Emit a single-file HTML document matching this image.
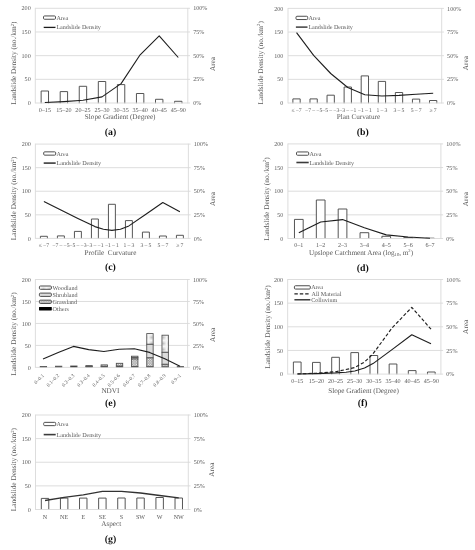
<!DOCTYPE html>
<html><head><meta charset="utf-8"><style>
html,body{margin:0;padding:0;background:#fff;}
svg{display:block;}
text{font-family:"Liberation Serif", "Times New Roman", serif;text-rendering:geometricPrecision;}
</style></head><body>
<svg width="475" height="550" viewBox="0 0 475 550">
<defs>
<pattern id="pw" width="1.2" height="1.2" patternUnits="userSpaceOnUse"><rect width="1.2" height="1.2" fill="#f6f6f6"/><rect width="0.5" height="0.5" fill="#b0b0b0"/></pattern>
<pattern id="ps" width="1.0" height="1.0" patternUnits="userSpaceOnUse"><rect width="1.0" height="1.0" fill="#efefef"/><rect width="0.5" height="0.5" fill="#a8a8a8"/></pattern>
<pattern id="pg" width="2.4" height="2.4" patternUnits="userSpaceOnUse"><rect width="2.4" height="2.4" fill="#9a9a9a"/><rect x="0.15" y="0.15" width="1.05" height="1.05" fill="#fff"/><rect x="1.35" y="1.35" width="1.05" height="1.05" fill="#fff"/></pattern>
</defs>
<defs><filter id="bl" x="0" y="0" width="100%" height="100%"><feGaussianBlur stdDeviation="0.35"/></filter></defs>
<rect width="475" height="550" fill="#fff"/>
<g filter="url(#bl)">
<line x1="35.30" y1="8.30" x2="190.00" y2="8.30" stroke="#d9d9d9" stroke-width="0.9"/>
<line x1="35.30" y1="31.98" x2="190.00" y2="31.98" stroke="#d9d9d9" stroke-width="0.9"/>
<line x1="35.30" y1="55.65" x2="190.00" y2="55.65" stroke="#d9d9d9" stroke-width="0.9"/>
<line x1="35.30" y1="79.33" x2="190.00" y2="79.33" stroke="#d9d9d9" stroke-width="0.9"/>
<line x1="35.30" y1="7.90" x2="35.30" y2="103.40" stroke="#d9d9d9" stroke-width="0.9"/>
<line x1="187.80" y1="7.90" x2="187.80" y2="103.40" stroke="#d9d9d9" stroke-width="0.9"/>
<text x="30.70" y="10.40" font-size="6.1" text-anchor="end" fill="#595959">200</text>
<text x="30.70" y="34.08" font-size="6.1" text-anchor="end" fill="#595959">150</text>
<text x="30.70" y="57.75" font-size="6.1" text-anchor="end" fill="#595959">100</text>
<text x="30.70" y="81.42" font-size="6.1" text-anchor="end" fill="#595959">50</text>
<text x="30.70" y="105.10" font-size="6.1" text-anchor="end" fill="#595959">0</text>
<text x="193.20" y="10.40" font-size="6.1" fill="#595959">100%</text>
<text x="193.20" y="34.08" font-size="6.1" fill="#595959">75%</text>
<text x="193.20" y="57.75" font-size="6.1" fill="#595959">50%</text>
<text x="193.20" y="81.42" font-size="6.1" fill="#595959">25%</text>
<text x="193.20" y="105.10" font-size="6.1" fill="#595959">0%</text>
<path d="M41.13,103.30 L41.13,91.00 L48.53,91.00 L48.53,103.30" fill="#fff" stroke="#4d4d4d" stroke-width="0.95"/>
<path d="M60.19,103.30 L60.19,91.60 L67.59,91.60 L67.59,103.30" fill="#fff" stroke="#4d4d4d" stroke-width="0.95"/>
<path d="M79.26,103.30 L79.26,86.30 L86.66,86.30 L86.66,103.30" fill="#fff" stroke="#4d4d4d" stroke-width="0.95"/>
<path d="M98.32,103.30 L98.32,81.50 L105.72,81.50 L105.72,103.30" fill="#fff" stroke="#4d4d4d" stroke-width="0.95"/>
<path d="M117.38,103.30 L117.38,84.60 L124.78,84.60 L124.78,103.30" fill="#fff" stroke="#4d4d4d" stroke-width="0.95"/>
<path d="M136.44,103.30 L136.44,93.50 L143.84,93.50 L143.84,103.30" fill="#fff" stroke="#4d4d4d" stroke-width="0.95"/>
<path d="M155.51,103.30 L155.51,99.30 L162.91,99.30 L162.91,103.30" fill="#fff" stroke="#4d4d4d" stroke-width="0.95"/>
<path d="M174.57,103.30 L174.57,101.30 L181.97,101.30 L181.97,103.30" fill="#fff" stroke="#4d4d4d" stroke-width="0.95"/>
<line x1="35.30" y1="103.00" x2="190.00" y2="103.00" stroke="#d9d9d9" stroke-width="0.9"/>
<path d="M44.83,102.50 L63.89,101.60 L82.96,100.30 L102.02,96.90 L121.08,83.60 L140.14,54.80 L159.21,35.90 L178.27,57.50" fill="none" stroke="#1f1f1f" stroke-width="1.12" stroke-linejoin="round"/>
<text x="44.83" y="111.80" font-size="6.1" text-anchor="middle" fill="#595959">0–15</text>
<text x="63.89" y="111.80" font-size="6.1" text-anchor="middle" fill="#595959">15–20</text>
<text x="82.96" y="111.80" font-size="6.1" text-anchor="middle" fill="#595959">20–25</text>
<text x="102.02" y="111.80" font-size="6.1" text-anchor="middle" fill="#595959">25–30</text>
<text x="121.08" y="111.80" font-size="6.1" text-anchor="middle" fill="#595959">30–35</text>
<text x="140.14" y="111.80" font-size="6.1" text-anchor="middle" fill="#595959">35–40</text>
<text x="159.21" y="111.80" font-size="6.1" text-anchor="middle" fill="#595959">40–45</text>
<text x="178.27" y="111.80" font-size="6.1" text-anchor="middle" fill="#595959">45–90</text>
<text x="120.20" y="119.10" font-size="7.2" text-anchor="middle" fill="#595959">Slope Gradient (Degree)</text>
<text transform="translate(16.20,63.20) rotate(-90)" font-size="7.35" text-anchor="middle" fill="#595959">Landslide Density (no./km<tspan font-size="4.7" dy="-2.7">2</tspan><tspan dy="2.7">)</tspan></text>
<text transform="translate(214.50,64.00) rotate(-90)" font-size="7.3" text-anchor="middle" fill="#595959">Area</text>
<text x="110.50" y="134.65" font-size="9.8" text-anchor="middle" font-weight="bold" fill="#111">(a)</text>
<rect x="43.50" y="15.95" width="12.0" height="3.3" rx="1.0" fill="#fff" stroke="#4d4d4d" stroke-width="1.0"/>
<text x="56.40" y="19.65" font-size="6.1" fill="#595959">Area</text>
<line x1="43.70" y1="27.40" x2="55.50" y2="27.40" stroke="#1f1f1f" stroke-width="1.3"/>
<text x="56.40" y="29.45" font-size="6.1" fill="#595959">Landslide Density</text>
<line x1="288.00" y1="8.40" x2="443.90" y2="8.40" stroke="#d9d9d9" stroke-width="0.9"/>
<line x1="288.00" y1="32.05" x2="443.90" y2="32.05" stroke="#d9d9d9" stroke-width="0.9"/>
<line x1="288.00" y1="55.70" x2="443.90" y2="55.70" stroke="#d9d9d9" stroke-width="0.9"/>
<line x1="288.00" y1="79.35" x2="443.90" y2="79.35" stroke="#d9d9d9" stroke-width="0.9"/>
<line x1="288.00" y1="8.00" x2="288.00" y2="103.40" stroke="#d9d9d9" stroke-width="0.9"/>
<line x1="441.70" y1="8.00" x2="441.70" y2="103.40" stroke="#d9d9d9" stroke-width="0.9"/>
<text x="283.40" y="10.50" font-size="6.1" text-anchor="end" fill="#595959">200</text>
<text x="283.40" y="34.15" font-size="6.1" text-anchor="end" fill="#595959">150</text>
<text x="283.40" y="57.80" font-size="6.1" text-anchor="end" fill="#595959">100</text>
<text x="283.40" y="81.45" font-size="6.1" text-anchor="end" fill="#595959">50</text>
<text x="283.40" y="105.10" font-size="6.1" text-anchor="end" fill="#595959">0</text>
<text x="447.10" y="10.50" font-size="6.1" fill="#595959">100%</text>
<text x="447.10" y="34.15" font-size="6.1" fill="#595959">75%</text>
<text x="447.10" y="57.80" font-size="6.1" fill="#595959">50%</text>
<text x="447.10" y="81.45" font-size="6.1" fill="#595959">25%</text>
<text x="447.10" y="105.10" font-size="6.1" fill="#595959">0%</text>
<path d="M292.89,103.30 L292.89,98.90 L300.19,98.90 L300.19,103.30" fill="#fff" stroke="#4d4d4d" stroke-width="0.95"/>
<path d="M309.97,103.30 L309.97,98.90 L317.27,98.90 L317.27,103.30" fill="#fff" stroke="#4d4d4d" stroke-width="0.95"/>
<path d="M327.04,103.30 L327.04,95.20 L334.34,95.20 L334.34,103.30" fill="#fff" stroke="#4d4d4d" stroke-width="0.95"/>
<path d="M344.12,103.30 L344.12,87.00 L351.42,87.00 L351.42,103.30" fill="#fff" stroke="#4d4d4d" stroke-width="0.95"/>
<path d="M361.20,103.30 L361.20,75.90 L368.50,75.90 L368.50,103.30" fill="#fff" stroke="#4d4d4d" stroke-width="0.95"/>
<path d="M378.28,103.30 L378.28,81.40 L385.58,81.40 L385.58,103.30" fill="#fff" stroke="#4d4d4d" stroke-width="0.95"/>
<path d="M395.36,103.30 L395.36,92.50 L402.66,92.50 L402.66,103.30" fill="#fff" stroke="#4d4d4d" stroke-width="0.95"/>
<path d="M412.43,103.30 L412.43,99.10 L419.73,99.10 L419.73,103.30" fill="#fff" stroke="#4d4d4d" stroke-width="0.95"/>
<path d="M429.51,103.30 L429.51,100.50 L436.81,100.50 L436.81,103.30" fill="#fff" stroke="#4d4d4d" stroke-width="0.95"/>
<line x1="288.00" y1="103.00" x2="443.90" y2="103.00" stroke="#d9d9d9" stroke-width="0.9"/>
<path d="M296.54,32.60 L313.62,55.30 L330.69,73.50 L347.77,87.50 L364.85,94.70 L381.93,96.00 L399.01,95.40 L416.08,94.30 L433.16,93.20" fill="none" stroke="#1f1f1f" stroke-width="1.12" stroke-linejoin="round"/>
<text x="296.54" y="111.60" font-size="5.7" text-anchor="middle" fill="#606060">≤ −7</text>
<text x="313.62" y="111.60" font-size="5.7" text-anchor="middle" fill="#606060">−7 – −5</text>
<text x="330.69" y="111.60" font-size="5.7" text-anchor="middle" fill="#606060">−5 – −3</text>
<text x="347.77" y="111.60" font-size="5.7" text-anchor="middle" fill="#606060">−3 – −1</text>
<text x="364.85" y="111.60" font-size="5.7" text-anchor="middle" fill="#606060">−1 – 1</text>
<text x="381.93" y="111.60" font-size="5.7" text-anchor="middle" fill="#606060">1 – 3</text>
<text x="399.01" y="111.60" font-size="5.7" text-anchor="middle" fill="#606060">3 – 5</text>
<text x="416.08" y="111.60" font-size="5.7" text-anchor="middle" fill="#606060">5 – 7</text>
<text x="433.16" y="111.60" font-size="5.7" text-anchor="middle" fill="#606060">≥ 7</text>
<text x="358.50" y="119.30" font-size="7.2" text-anchor="middle" fill="#595959">Plan Curvature</text>
<text transform="translate(262.90,62.80) rotate(-90)" font-size="7.35" text-anchor="middle" fill="#595959">Landslide Density (no./km<tspan font-size="4.7" dy="-2.7">2</tspan><tspan dy="2.7">)</tspan></text>
<text transform="translate(467.50,63.20) rotate(-90)" font-size="7.3" text-anchor="middle" fill="#595959">Area</text>
<text x="362.75" y="134.85" font-size="9.8" text-anchor="middle" font-weight="bold" fill="#111">(b)</text>
<rect x="296.00" y="16.25" width="11.7" height="3.3" rx="1.0" fill="#fff" stroke="#4d4d4d" stroke-width="1.0"/>
<text x="308.60" y="19.95" font-size="6.1" fill="#595959">Area</text>
<line x1="295.90" y1="27.10" x2="307.50" y2="27.10" stroke="#1f1f1f" stroke-width="1.3"/>
<text x="308.40" y="29.15" font-size="6.1" fill="#595959">Landslide Density</text>
<line x1="35.40" y1="144.10" x2="190.60" y2="144.10" stroke="#d9d9d9" stroke-width="0.9"/>
<line x1="35.40" y1="167.68" x2="190.60" y2="167.68" stroke="#d9d9d9" stroke-width="0.9"/>
<line x1="35.40" y1="191.25" x2="190.60" y2="191.25" stroke="#d9d9d9" stroke-width="0.9"/>
<line x1="35.40" y1="214.82" x2="190.60" y2="214.82" stroke="#d9d9d9" stroke-width="0.9"/>
<line x1="35.40" y1="143.70" x2="35.40" y2="238.80" stroke="#d9d9d9" stroke-width="0.9"/>
<line x1="188.40" y1="143.70" x2="188.40" y2="238.80" stroke="#d9d9d9" stroke-width="0.9"/>
<text x="30.80" y="146.20" font-size="6.1" text-anchor="end" fill="#595959">200</text>
<text x="30.80" y="169.78" font-size="6.1" text-anchor="end" fill="#595959">150</text>
<text x="30.80" y="193.35" font-size="6.1" text-anchor="end" fill="#595959">100</text>
<text x="30.80" y="216.92" font-size="6.1" text-anchor="end" fill="#595959">50</text>
<text x="30.80" y="240.50" font-size="6.1" text-anchor="end" fill="#595959">0</text>
<text x="193.80" y="146.20" font-size="6.1" fill="#595959">100%</text>
<text x="193.80" y="169.78" font-size="6.1" fill="#595959">75%</text>
<text x="193.80" y="193.35" font-size="6.1" fill="#595959">50%</text>
<text x="193.80" y="216.92" font-size="6.1" fill="#595959">25%</text>
<text x="193.80" y="240.50" font-size="6.1" fill="#595959">0%</text>
<path d="M40.42,238.70 L40.42,236.30 L47.38,236.30 L47.38,238.70" fill="#fff" stroke="#4d4d4d" stroke-width="0.95"/>
<path d="M57.42,238.70 L57.42,235.90 L64.38,235.90 L64.38,238.70" fill="#fff" stroke="#4d4d4d" stroke-width="0.95"/>
<path d="M74.43,238.70 L74.43,231.40 L81.38,231.40 L81.38,238.70" fill="#fff" stroke="#4d4d4d" stroke-width="0.95"/>
<path d="M91.43,238.70 L91.43,219.00 L98.38,219.00 L98.38,238.70" fill="#fff" stroke="#4d4d4d" stroke-width="0.95"/>
<path d="M108.43,238.70 L108.43,204.30 L115.38,204.30 L115.38,238.70" fill="#fff" stroke="#4d4d4d" stroke-width="0.95"/>
<path d="M125.43,238.70 L125.43,220.60 L132.38,220.60 L132.38,238.70" fill="#fff" stroke="#4d4d4d" stroke-width="0.95"/>
<path d="M142.43,238.70 L142.43,232.10 L149.38,232.10 L149.38,238.70" fill="#fff" stroke="#4d4d4d" stroke-width="0.95"/>
<path d="M159.43,238.70 L159.43,236.00 L166.38,236.00 L166.38,238.70" fill="#fff" stroke="#4d4d4d" stroke-width="0.95"/>
<path d="M176.43,238.70 L176.43,235.30 L183.38,235.30 L183.38,238.70" fill="#fff" stroke="#4d4d4d" stroke-width="0.95"/>
<line x1="35.40" y1="238.40" x2="190.60" y2="238.40" stroke="#d9d9d9" stroke-width="0.9"/>
<path d="M43.90,201.60 L60.90,210.00 L77.90,218.50 L94.90,226.60 L103.40,229.20 L111.90,230.40 L120.40,229.20 L128.90,225.90 L145.90,214.20 L162.80,202.50 L179.90,211.70" fill="none" stroke="#1f1f1f" stroke-width="1.12" stroke-linejoin="round"/>
<text x="43.90" y="246.90" font-size="5.7" text-anchor="middle" fill="#606060">≤ −7</text>
<text x="60.90" y="246.90" font-size="5.7" text-anchor="middle" fill="#606060">−7 – −5</text>
<text x="77.90" y="246.90" font-size="5.7" text-anchor="middle" fill="#606060">−5 – −3</text>
<text x="94.90" y="246.90" font-size="5.7" text-anchor="middle" fill="#606060">−3 – −1</text>
<text x="111.90" y="246.90" font-size="5.7" text-anchor="middle" fill="#606060">−1 – 1</text>
<text x="128.90" y="246.90" font-size="5.7" text-anchor="middle" fill="#606060">1 – 3</text>
<text x="145.90" y="246.90" font-size="5.7" text-anchor="middle" fill="#606060">3 – 5</text>
<text x="162.90" y="246.90" font-size="5.7" text-anchor="middle" fill="#606060">5 – 7</text>
<text x="179.90" y="246.90" font-size="5.7" text-anchor="middle" fill="#606060">≥ 7</text>
<text x="110.50" y="255.00" font-size="7.2" text-anchor="middle" fill="#595959">Profile&#160;&#160;Curvature</text>
<text transform="translate(16.20,198.50) rotate(-90)" font-size="7.35" text-anchor="middle" fill="#595959">Landslide Density (no./km<tspan font-size="4.7" dy="-2.7">2</tspan><tspan dy="2.7">)</tspan></text>
<text transform="translate(214.80,199.00) rotate(-90)" font-size="7.3" text-anchor="middle" fill="#595959">Area</text>
<text x="110.45" y="270.40" font-size="9.8" text-anchor="middle" font-weight="bold" fill="#111">(c)</text>
<rect x="43.70" y="151.85" width="12.0" height="3.3" rx="1.0" fill="#fff" stroke="#4d4d4d" stroke-width="1.0"/>
<text x="56.60" y="155.55" font-size="6.1" fill="#595959">Area</text>
<line x1="43.70" y1="163.10" x2="55.70" y2="163.10" stroke="#3a3a3a" stroke-width="1.6"/>
<text x="56.60" y="165.15" font-size="6.1" fill="#595959">Landslide Density</text>
<line x1="287.90" y1="143.90" x2="443.10" y2="143.90" stroke="#d9d9d9" stroke-width="0.9"/>
<line x1="287.90" y1="167.55" x2="443.10" y2="167.55" stroke="#d9d9d9" stroke-width="0.9"/>
<line x1="287.90" y1="191.20" x2="443.10" y2="191.20" stroke="#d9d9d9" stroke-width="0.9"/>
<line x1="287.90" y1="214.85" x2="443.10" y2="214.85" stroke="#d9d9d9" stroke-width="0.9"/>
<line x1="287.90" y1="143.50" x2="287.90" y2="238.90" stroke="#d9d9d9" stroke-width="0.9"/>
<line x1="440.90" y1="143.50" x2="440.90" y2="238.90" stroke="#d9d9d9" stroke-width="0.9"/>
<text x="283.30" y="146.00" font-size="6.1" text-anchor="end" fill="#595959">200</text>
<text x="283.30" y="169.65" font-size="6.1" text-anchor="end" fill="#595959">150</text>
<text x="283.30" y="193.30" font-size="6.1" text-anchor="end" fill="#595959">100</text>
<text x="283.30" y="216.95" font-size="6.1" text-anchor="end" fill="#595959">50</text>
<text x="283.30" y="240.60" font-size="6.1" text-anchor="end" fill="#595959">0</text>
<text x="446.30" y="146.00" font-size="6.1" fill="#595959">100%</text>
<text x="446.30" y="169.65" font-size="6.1" fill="#595959">75%</text>
<text x="446.30" y="193.30" font-size="6.1" fill="#595959">50%</text>
<text x="446.30" y="216.95" font-size="6.1" fill="#595959">25%</text>
<text x="446.30" y="240.60" font-size="6.1" fill="#595959">0%</text>
<path d="M294.48,238.80 L294.48,219.40 L303.18,219.40 L303.18,238.80" fill="#fff" stroke="#4d4d4d" stroke-width="0.95"/>
<path d="M316.34,238.80 L316.34,200.00 L325.04,200.00 L325.04,238.80" fill="#fff" stroke="#4d4d4d" stroke-width="0.95"/>
<path d="M338.19,238.80 L338.19,209.00 L346.89,209.00 L346.89,238.80" fill="#fff" stroke="#4d4d4d" stroke-width="0.95"/>
<path d="M360.05,238.80 L360.05,232.70 L368.75,232.70 L368.75,238.80" fill="#fff" stroke="#4d4d4d" stroke-width="0.95"/>
<path d="M381.91,238.80 L381.91,236.30 L390.61,236.30 L390.61,238.80" fill="#fff" stroke="#4d4d4d" stroke-width="0.95"/>
<path d="M403.76,238.80 L403.76,237.60 L412.46,237.60 L412.46,238.80" fill="#fff" stroke="#4d4d4d" stroke-width="0.95"/>
<path d="M425.62,238.80 L425.62,238.20 L434.32,238.20 L434.32,238.80" fill="#fff" stroke="#4d4d4d" stroke-width="0.95"/>
<line x1="287.90" y1="238.50" x2="443.10" y2="238.50" stroke="#d9d9d9" stroke-width="0.9"/>
<path d="M298.83,232.80 L320.69,222.00 L342.54,219.60 L364.40,227.80 L386.26,234.90 L408.11,237.00 L429.97,238.20" fill="none" stroke="#1f1f1f" stroke-width="1.12" stroke-linejoin="round"/>
<text x="298.83" y="246.90" font-size="6.1" text-anchor="middle" fill="#595959">0–1</text>
<text x="320.69" y="246.90" font-size="6.1" text-anchor="middle" fill="#595959">1–2</text>
<text x="342.54" y="246.90" font-size="6.1" text-anchor="middle" fill="#595959">2–3</text>
<text x="364.40" y="246.90" font-size="6.1" text-anchor="middle" fill="#595959">3–4</text>
<text x="386.26" y="246.90" font-size="6.1" text-anchor="middle" fill="#595959">4–5</text>
<text x="408.11" y="246.90" font-size="6.1" text-anchor="middle" fill="#595959">5–6</text>
<text x="429.97" y="246.90" font-size="6.1" text-anchor="middle" fill="#595959">6–7</text>
<text x="361.00" y="254.60" font-size="7.2" text-anchor="middle" fill="#595959">Upslope Catchment Area (log<tspan font-size="4.6" dy="1.5">10</tspan><tspan dy="-1.5">, m</tspan><tspan font-size="4.6" dy="-2.6">2</tspan><tspan dy="2.6">)</tspan></text>
<text transform="translate(268.50,199.00) rotate(-90)" font-size="7.35" text-anchor="middle" fill="#595959">Landslide Density (no./km<tspan font-size="4.7" dy="-2.7">2</tspan><tspan dy="2.7">)</tspan></text>
<text transform="translate(467.50,199.20) rotate(-90)" font-size="7.3" text-anchor="middle" fill="#595959">Area</text>
<text x="362.70" y="270.75" font-size="9.8" text-anchor="middle" font-weight="bold" fill="#111">(d)</text>
<rect x="296.50" y="151.95" width="12.2" height="3.3" rx="1.0" fill="#fff" stroke="#4d4d4d" stroke-width="1.0"/>
<text x="309.60" y="155.65" font-size="6.1" fill="#595959">Area</text>
<line x1="296.40" y1="162.50" x2="308.70" y2="162.50" stroke="#3a3a3a" stroke-width="1.6"/>
<text x="309.60" y="164.55" font-size="6.1" fill="#595959">Landslide Density</text>
<line x1="35.40" y1="279.50" x2="189.80" y2="279.50" stroke="#d9d9d9" stroke-width="0.9"/>
<line x1="35.40" y1="301.48" x2="189.80" y2="301.48" stroke="#d9d9d9" stroke-width="0.9"/>
<line x1="35.40" y1="323.45" x2="189.80" y2="323.45" stroke="#d9d9d9" stroke-width="0.9"/>
<line x1="35.40" y1="345.42" x2="189.80" y2="345.42" stroke="#d9d9d9" stroke-width="0.9"/>
<line x1="35.40" y1="279.10" x2="35.40" y2="367.80" stroke="#d9d9d9" stroke-width="0.9"/>
<line x1="187.60" y1="279.10" x2="187.60" y2="367.80" stroke="#d9d9d9" stroke-width="0.9"/>
<text x="30.80" y="281.60" font-size="6.1" text-anchor="end" fill="#595959">200</text>
<text x="30.80" y="303.58" font-size="6.1" text-anchor="end" fill="#595959">150</text>
<text x="30.80" y="325.55" font-size="6.1" text-anchor="end" fill="#595959">100</text>
<text x="30.80" y="347.52" font-size="6.1" text-anchor="end" fill="#595959">50</text>
<text x="30.80" y="369.50" font-size="6.1" text-anchor="end" fill="#595959">0</text>
<text x="193.00" y="281.60" font-size="6.1" fill="#595959">100%</text>
<text x="193.00" y="303.58" font-size="6.1" fill="#595959">75%</text>
<text x="193.00" y="325.55" font-size="6.1" fill="#595959">50%</text>
<text x="193.00" y="347.52" font-size="6.1" fill="#595959">25%</text>
<text x="193.00" y="369.50" font-size="6.1" fill="#595959">0%</text>
<rect x="40.21" y="366.50" width="6.40" height="0.90" fill="#222" stroke="#4d4d4d" stroke-width="0.85"/>
<rect x="55.43" y="366.20" width="6.40" height="1.20" fill="#222" stroke="#4d4d4d" stroke-width="0.85"/>
<rect x="70.65" y="366.00" width="6.40" height="1.40" fill="#222" stroke="#4d4d4d" stroke-width="0.85"/>
<rect x="85.87" y="365.60" width="6.40" height="1.00" fill="url(#pg)" stroke="#4d4d4d" stroke-width="0.85"/>
<rect x="85.87" y="366.60" width="6.40" height="0.80" fill="#222" stroke="#4d4d4d" stroke-width="0.85"/>
<rect x="101.09" y="364.90" width="6.40" height="1.60" fill="url(#pg)" stroke="#4d4d4d" stroke-width="0.85"/>
<rect x="101.09" y="366.50" width="6.40" height="0.90" fill="#222" stroke="#4d4d4d" stroke-width="0.85"/>
<rect x="116.31" y="363.30" width="6.40" height="2.90" fill="url(#pg)" stroke="#4d4d4d" stroke-width="0.85"/>
<rect x="116.31" y="366.20" width="6.40" height="1.20" fill="#222" stroke="#4d4d4d" stroke-width="0.85"/>
<rect x="131.53" y="356.20" width="6.40" height="1.20" fill="url(#pw)" stroke="#4d4d4d" stroke-width="0.85"/>
<rect x="131.53" y="357.40" width="6.40" height="1.60" fill="url(#ps)" stroke="#4d4d4d" stroke-width="0.85"/>
<rect x="131.53" y="359.00" width="6.40" height="7.60" fill="url(#pg)" stroke="#4d4d4d" stroke-width="0.85"/>
<rect x="131.53" y="366.60" width="6.40" height="0.80" fill="#222" stroke="#4d4d4d" stroke-width="0.85"/>
<rect x="146.75" y="333.60" width="6.40" height="10.70" fill="url(#pw)" stroke="#4d4d4d" stroke-width="0.85"/>
<rect x="146.75" y="344.30" width="6.40" height="13.60" fill="url(#ps)" stroke="#4d4d4d" stroke-width="0.85"/>
<rect x="146.75" y="357.90" width="6.40" height="8.90" fill="url(#pg)" stroke="#4d4d4d" stroke-width="0.85"/>
<rect x="146.75" y="366.80" width="6.40" height="0.60" fill="#222" stroke="#4d4d4d" stroke-width="0.85"/>
<rect x="161.97" y="335.20" width="6.40" height="17.10" fill="url(#pw)" stroke="#4d4d4d" stroke-width="0.85"/>
<rect x="161.97" y="352.30" width="6.40" height="12.00" fill="url(#ps)" stroke="#4d4d4d" stroke-width="0.85"/>
<rect x="161.97" y="364.30" width="6.40" height="2.60" fill="url(#pg)" stroke="#4d4d4d" stroke-width="0.85"/>
<rect x="161.97" y="366.90" width="6.40" height="0.50" fill="#222" stroke="#4d4d4d" stroke-width="0.85"/>
<rect x="177.19" y="366.60" width="6.40" height="0.80" fill="#1a1a1a" stroke="#4d4d4d" stroke-width="0.85"/>
<line x1="35.40" y1="367.40" x2="189.80" y2="367.40" stroke="#d9d9d9" stroke-width="0.9"/>
<path d="M43.01,359.10 L58.23,352.60 L73.45,346.40 L88.67,349.60 L103.89,351.50 L119.11,349.20 L134.33,348.80 L149.55,352.40 L164.77,358.80 L179.99,366.20" fill="none" stroke="#1f1f1f" stroke-width="1.12" stroke-linejoin="round"/>
<text transform="translate(44.31,375.90) rotate(-45)" font-size="5.2" text-anchor="end" fill="#666">0–0.1</text>
<text transform="translate(59.53,375.90) rotate(-45)" font-size="5.2" text-anchor="end" fill="#666">0.1–0.2</text>
<text transform="translate(74.75,375.90) rotate(-45)" font-size="5.2" text-anchor="end" fill="#666">0.2–0.3</text>
<text transform="translate(89.97,375.90) rotate(-45)" font-size="5.2" text-anchor="end" fill="#666">0.3–0.4</text>
<text transform="translate(105.19,375.90) rotate(-45)" font-size="5.2" text-anchor="end" fill="#666">0.4–0.5</text>
<text transform="translate(120.41,375.90) rotate(-45)" font-size="5.2" text-anchor="end" fill="#666">0.5–0.6</text>
<text transform="translate(135.63,375.90) rotate(-45)" font-size="5.2" text-anchor="end" fill="#666">0.6–0.7</text>
<text transform="translate(150.85,375.90) rotate(-45)" font-size="5.2" text-anchor="end" fill="#666">0.7–0.8</text>
<text transform="translate(166.07,375.90) rotate(-45)" font-size="5.2" text-anchor="end" fill="#666">0.8–0.9</text>
<text transform="translate(181.29,375.90) rotate(-45)" font-size="5.2" text-anchor="end" fill="#666">0.9–1</text>
<text x="110.40" y="392.60" font-size="7.2" text-anchor="middle" fill="#595959">NDVI</text>
<text transform="translate(16.20,334.00) rotate(-90)" font-size="7.35" text-anchor="middle" fill="#595959">Landslide Density (no./km<tspan font-size="4.7" dy="-2.7">2</tspan><tspan dy="2.7">)</tspan></text>
<text transform="translate(214.80,334.80) rotate(-90)" font-size="7.3" text-anchor="middle" fill="#595959">Area</text>
<text x="110.50" y="405.70" font-size="9.8" text-anchor="middle" font-weight="bold" fill="#111">(e)</text>
<rect x="39.40" y="286.00" width="12.0" height="3.3" rx="1.0" fill="url(#pw)" stroke="#4d4d4d" stroke-width="1.0"/>
<text x="52.60" y="289.70" font-size="6.1" fill="#595959">Woodland</text>
<rect x="39.40" y="293.10" width="12.0" height="3.3" rx="1.0" fill="url(#ps)" stroke="#4d4d4d" stroke-width="1.0"/>
<text x="52.60" y="296.80" font-size="6.1" fill="#595959">Shrubland</text>
<rect x="39.40" y="300.15" width="12.0" height="3.3" rx="1.0" fill="url(#pg)" stroke="#4d4d4d" stroke-width="1.0"/>
<text x="52.60" y="303.85" font-size="6.1" fill="#595959">Grassland</text>
<rect x="39.00" y="306.90" width="12.8" height="3.5" rx="0.4" fill="#000"/>
<text x="52.60" y="310.70" font-size="6.1" fill="#595959">Others</text>
<line x1="287.65" y1="279.50" x2="443.10" y2="279.50" stroke="#d9d9d9" stroke-width="0.9"/>
<line x1="287.65" y1="303.15" x2="443.10" y2="303.15" stroke="#d9d9d9" stroke-width="0.9"/>
<line x1="287.65" y1="326.80" x2="443.10" y2="326.80" stroke="#d9d9d9" stroke-width="0.9"/>
<line x1="287.65" y1="350.45" x2="443.10" y2="350.45" stroke="#d9d9d9" stroke-width="0.9"/>
<line x1="287.65" y1="279.10" x2="287.65" y2="374.50" stroke="#d9d9d9" stroke-width="0.9"/>
<line x1="440.90" y1="279.10" x2="440.90" y2="374.50" stroke="#d9d9d9" stroke-width="0.9"/>
<text x="283.05" y="281.60" font-size="6.1" text-anchor="end" fill="#595959">200</text>
<text x="283.05" y="305.25" font-size="6.1" text-anchor="end" fill="#595959">150</text>
<text x="283.05" y="328.90" font-size="6.1" text-anchor="end" fill="#595959">100</text>
<text x="283.05" y="352.55" font-size="6.1" text-anchor="end" fill="#595959">50</text>
<text x="283.05" y="376.20" font-size="6.1" text-anchor="end" fill="#595959">0</text>
<text x="446.30" y="281.60" font-size="6.1" fill="#595959">100%</text>
<text x="446.30" y="305.25" font-size="6.1" fill="#595959">75%</text>
<text x="446.30" y="328.90" font-size="6.1" fill="#595959">50%</text>
<text x="446.30" y="352.55" font-size="6.1" fill="#595959">25%</text>
<text x="446.30" y="376.20" font-size="6.1" fill="#595959">0%</text>
<path d="M293.38,374.40 L293.38,362.00 L301.08,362.00 L301.08,374.40" fill="#fff" stroke="#4d4d4d" stroke-width="0.95"/>
<path d="M312.53,374.40 L312.53,362.40 L320.23,362.40 L320.23,374.40" fill="#fff" stroke="#4d4d4d" stroke-width="0.95"/>
<path d="M331.69,374.40 L331.69,357.30 L339.39,357.30 L339.39,374.40" fill="#fff" stroke="#4d4d4d" stroke-width="0.95"/>
<path d="M350.85,374.40 L350.85,352.60 L358.55,352.60 L358.55,374.40" fill="#fff" stroke="#4d4d4d" stroke-width="0.95"/>
<path d="M370.00,374.40 L370.00,355.50 L377.70,355.50 L377.70,374.40" fill="#fff" stroke="#4d4d4d" stroke-width="0.95"/>
<path d="M389.16,374.40 L389.16,364.00 L396.86,364.00 L396.86,374.40" fill="#fff" stroke="#4d4d4d" stroke-width="0.95"/>
<path d="M408.32,374.40 L408.32,370.60 L416.02,370.60 L416.02,374.40" fill="#fff" stroke="#4d4d4d" stroke-width="0.95"/>
<path d="M427.47,374.40 L427.47,372.00 L435.17,372.00 L435.17,374.40" fill="#fff" stroke="#4d4d4d" stroke-width="0.95"/>
<line x1="287.65" y1="374.10" x2="443.10" y2="374.10" stroke="#d9d9d9" stroke-width="0.9"/>
<path d="M297.50,373.90 L316.60,373.20 L335.70,371.70 L354.80,367.60 L364.50,362.00 L372.50,354.50 L392.00,328.00 L411.80,307.30 L431.00,329.20" fill="none" stroke="#1f1f1f" stroke-width="1.15" stroke-dasharray="3.4,2.0" stroke-linejoin="round"/>
<path d="M297.50,374.00 L316.60,373.60 L335.70,372.90 L346.00,372.20 L354.80,371.00 L364.50,368.00 L373.00,363.60 L392.00,349.60 L411.80,334.80 L431.00,343.80" fill="none" stroke="#1f1f1f" stroke-width="1.15" stroke-linejoin="round"/>
<text x="297.23" y="382.50" font-size="6.1" text-anchor="middle" fill="#595959">0–15</text>
<text x="316.38" y="382.50" font-size="6.1" text-anchor="middle" fill="#595959">15–20</text>
<text x="335.54" y="382.50" font-size="6.1" text-anchor="middle" fill="#595959">20–25</text>
<text x="354.70" y="382.50" font-size="6.1" text-anchor="middle" fill="#595959">25–30</text>
<text x="373.85" y="382.50" font-size="6.1" text-anchor="middle" fill="#595959">30–35</text>
<text x="393.01" y="382.50" font-size="6.1" text-anchor="middle" fill="#595959">35–40</text>
<text x="412.17" y="382.50" font-size="6.1" text-anchor="middle" fill="#595959">40–45</text>
<text x="431.32" y="382.50" font-size="6.1" text-anchor="middle" fill="#595959">45–90</text>
<text x="363.50" y="393.20" font-size="7.2" text-anchor="middle" fill="#595959">Slope Gradient (Degree)</text>
<text transform="translate(270.30,327.00) rotate(-90)" font-size="7.35" text-anchor="middle" fill="#595959">Landslide Density (no./km<tspan font-size="4.7" dy="-2.7">2</tspan><tspan dy="2.7">)</tspan></text>
<text transform="translate(467.50,326.80) rotate(-90)" font-size="7.3" text-anchor="middle" fill="#595959">Area</text>
<text x="362.70" y="405.95" font-size="9.8" text-anchor="middle" font-weight="bold" fill="#111">(f)</text>
<rect x="294.40" y="285.75" width="15.9" height="3.3" rx="1.0" fill="#fff" stroke="#4d4d4d" stroke-width="1.0"/>
<text x="311.20" y="289.45" font-size="6.1" fill="#595959">Area</text>
<line x1="294.40" y1="293.90" x2="310.30" y2="293.90" stroke="#1f1f1f" stroke-width="1.2" stroke-dasharray="3.4,2.0"/>
<text x="311.50" y="295.95" font-size="6.1" fill="#595959">All Material</text>
<line x1="294.40" y1="299.80" x2="310.30" y2="299.80" stroke="#1f1f1f" stroke-width="1.3"/>
<text x="311.20" y="301.85" font-size="6.1" fill="#595959">Colluvium</text>
<line x1="35.50" y1="415.00" x2="190.50" y2="415.00" stroke="#d9d9d9" stroke-width="0.9"/>
<line x1="35.50" y1="438.62" x2="190.50" y2="438.62" stroke="#d9d9d9" stroke-width="0.9"/>
<line x1="35.50" y1="462.25" x2="190.50" y2="462.25" stroke="#d9d9d9" stroke-width="0.9"/>
<line x1="35.50" y1="485.88" x2="190.50" y2="485.88" stroke="#d9d9d9" stroke-width="0.9"/>
<line x1="35.50" y1="414.60" x2="35.50" y2="509.90" stroke="#d9d9d9" stroke-width="0.9"/>
<line x1="188.30" y1="414.60" x2="188.30" y2="509.90" stroke="#d9d9d9" stroke-width="0.9"/>
<text x="30.90" y="417.10" font-size="6.1" text-anchor="end" fill="#595959">200</text>
<text x="30.90" y="440.73" font-size="6.1" text-anchor="end" fill="#595959">150</text>
<text x="30.90" y="464.35" font-size="6.1" text-anchor="end" fill="#595959">100</text>
<text x="30.90" y="487.98" font-size="6.1" text-anchor="end" fill="#595959">50</text>
<text x="30.90" y="511.60" font-size="6.1" text-anchor="end" fill="#595959">0</text>
<text x="193.70" y="417.10" font-size="6.1" fill="#595959">100%</text>
<text x="193.70" y="440.73" font-size="6.1" fill="#595959">75%</text>
<text x="193.70" y="464.35" font-size="6.1" fill="#595959">50%</text>
<text x="193.70" y="487.98" font-size="6.1" fill="#595959">25%</text>
<text x="193.70" y="511.60" font-size="6.1" fill="#595959">0%</text>
<path d="M41.32,509.80 L41.32,498.40 L48.77,498.40 L48.77,509.80" fill="#fff" stroke="#4d4d4d" stroke-width="0.95"/>
<path d="M60.43,509.80 L60.43,498.10 L67.88,498.10 L67.88,509.80" fill="#fff" stroke="#4d4d4d" stroke-width="0.95"/>
<path d="M79.53,509.80 L79.53,498.10 L86.97,498.10 L86.97,509.80" fill="#fff" stroke="#4d4d4d" stroke-width="0.95"/>
<path d="M98.63,509.80 L98.63,498.10 L106.08,498.10 L106.08,509.80" fill="#fff" stroke="#4d4d4d" stroke-width="0.95"/>
<path d="M117.73,509.80 L117.73,498.00 L125.17,498.00 L125.17,509.80" fill="#fff" stroke="#4d4d4d" stroke-width="0.95"/>
<path d="M136.83,509.80 L136.83,498.00 L144.28,498.00 L144.28,509.80" fill="#fff" stroke="#4d4d4d" stroke-width="0.95"/>
<path d="M155.93,509.80 L155.93,497.50 L163.38,497.50 L163.38,509.80" fill="#fff" stroke="#4d4d4d" stroke-width="0.95"/>
<path d="M175.03,509.80 L175.03,498.00 L182.47,498.00 L182.47,509.80" fill="#fff" stroke="#4d4d4d" stroke-width="0.95"/>
<line x1="35.50" y1="509.50" x2="190.50" y2="509.50" stroke="#d9d9d9" stroke-width="0.9"/>
<path d="M45.05,500.50 L64.15,497.40 L83.25,494.80 L102.35,491.40 L121.45,491.30 L140.55,493.00 L159.65,495.50 L178.75,497.80" fill="none" stroke="#333" stroke-width="1.3" stroke-linejoin="round"/>
<text x="45.05" y="518.70" font-size="6.1" text-anchor="middle" fill="#595959">N</text>
<text x="64.15" y="518.70" font-size="6.1" text-anchor="middle" fill="#595959">NE</text>
<text x="83.25" y="518.70" font-size="6.1" text-anchor="middle" fill="#595959">E</text>
<text x="102.35" y="518.70" font-size="6.1" text-anchor="middle" fill="#595959">SE</text>
<text x="121.45" y="518.70" font-size="6.1" text-anchor="middle" fill="#595959">S</text>
<text x="140.55" y="518.70" font-size="6.1" text-anchor="middle" fill="#595959">SW</text>
<text x="159.65" y="518.70" font-size="6.1" text-anchor="middle" fill="#595959">W</text>
<text x="178.75" y="518.70" font-size="6.1" text-anchor="middle" fill="#595959">NW</text>
<text x="111.20" y="526.00" font-size="7.2" text-anchor="middle" fill="#595959">Aspect</text>
<text transform="translate(16.20,469.70) rotate(-90)" font-size="7.35" text-anchor="middle" fill="#595959">Landslide Density (no./km<tspan font-size="4.7" dy="-2.7">2</tspan><tspan dy="2.7">)</tspan></text>
<text transform="translate(213.70,469.60) rotate(-90)" font-size="7.3" text-anchor="middle" fill="#595959">Area</text>
<text x="110.50" y="541.65" font-size="9.8" text-anchor="middle" font-weight="bold" fill="#111">(g)</text>
<rect x="43.70" y="422.35" width="12.0" height="3.3" rx="1.0" fill="#fff" stroke="#4d4d4d" stroke-width="1.0"/>
<text x="56.60" y="426.05" font-size="6.1" fill="#595959">Area</text>
<line x1="43.70" y1="434.60" x2="55.70" y2="434.60" stroke="#3a3a3a" stroke-width="1.6"/>
<text x="56.60" y="436.65" font-size="6.1" fill="#595959">Landslide Density</text>
</g>
</svg>
</body></html>
